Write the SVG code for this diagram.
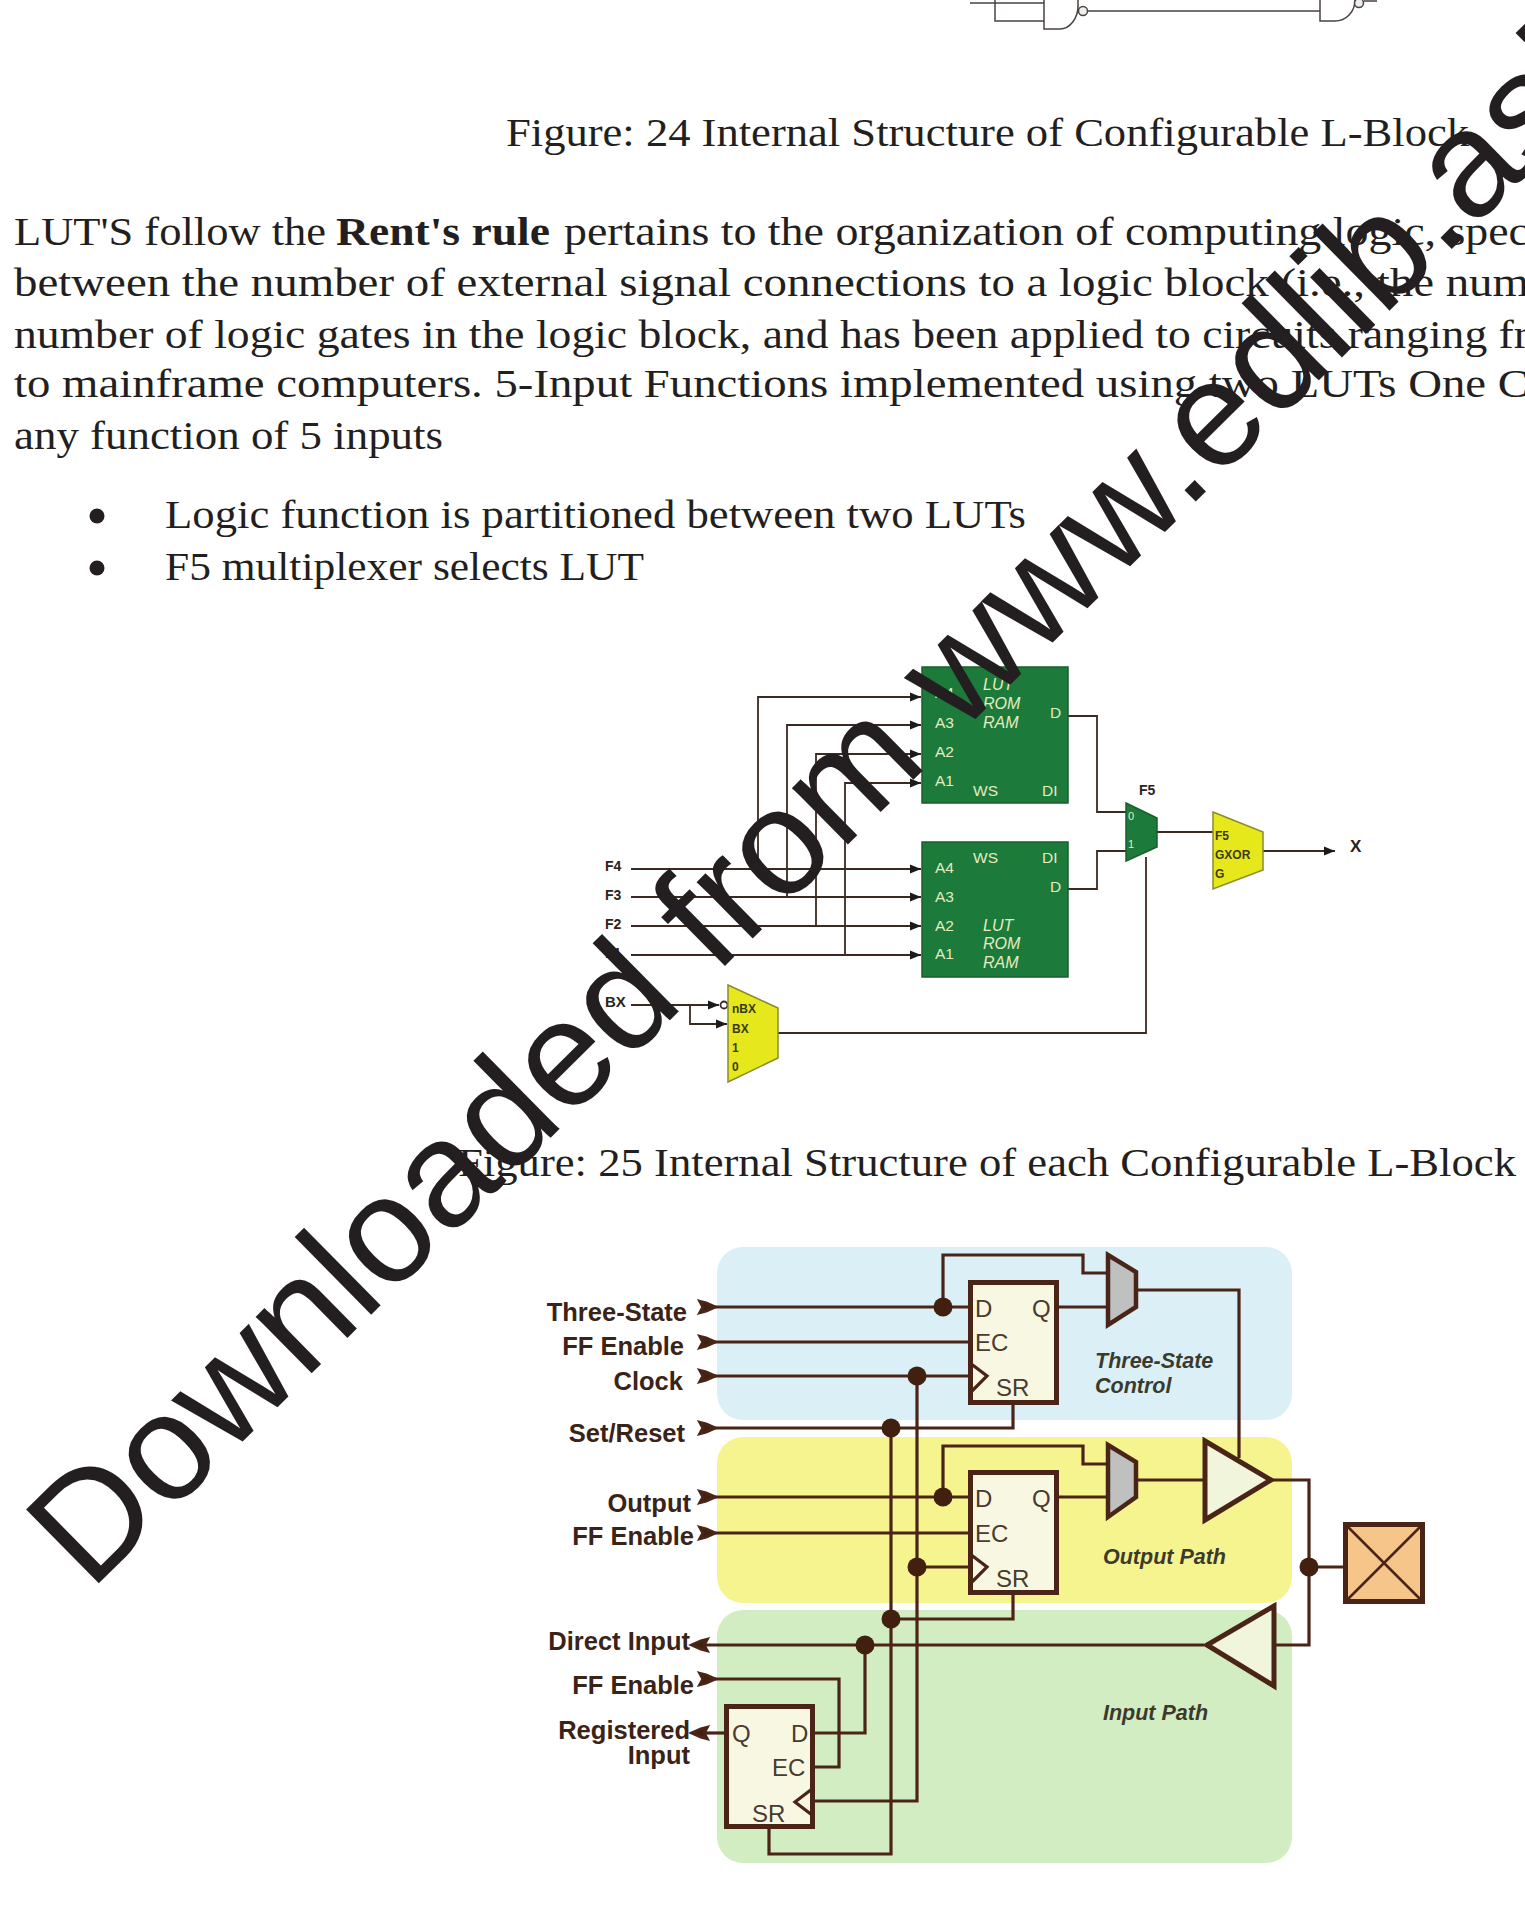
<svg xmlns="http://www.w3.org/2000/svg" width="1525" height="1908" viewBox="0 0 1525 1908">
<style>
text{font-family:"Liberation Sans",Arial,sans-serif}
.b{font-family:"Liberation Serif","Times New Roman",serif;font-size:40px;fill:#231f20}
.bb{font-weight:bold}
.w{fill:none;stroke:#3a2a22;stroke-width:1.8}
.lut{fill:#1c7a3a;stroke:#1b5e2d;stroke-width:1.5}
.ly{fill:#e4ecc0;font-size:15.5px}
.li{fill:#e4ecc0;font-size:16px;font-style:italic}
.k{fill:#2b2320;font-size:14px;font-weight:bold}
.ym{fill:#e6e81c;stroke:#8a8a30;stroke-width:1.5}
.ky{fill:#3a3a18;font-size:12px;font-weight:bold}
.c{fill:none;stroke:#4a2416;stroke-width:3.2}
.d{fill:#41200f}
.box{fill:#f8f8e2;stroke:#4a2416;stroke-width:5}
.mux{fill:#bfc0c0;stroke:#4a2416;stroke-width:4.5}
.tri{fill:#f1f5dc;stroke:#4a2416;stroke-width:5}
.s{fill:#4a3a30;font-size:24px}
.lab{fill:#3a2317;font-size:25.5px;font-weight:bold;text-anchor:end}
.ttl{fill:#3c3a2c;font-size:21.5px;font-weight:bold;font-style:italic}
.wm{fill:#231f20;font-size:150.5px}
</style>
<defs>
<marker id="a" markerUnits="userSpaceOnUse" markerWidth="12" markerHeight="10" refX="11" refY="5" orient="auto"><path d="M0 0.5L11 5L0 9.500Z" fill="#1a1a1a"/></marker>
<path id="ar" d="M0-5.500L6-4L15 0L6 4L0 5.500L3 0Z" fill="#41200f"/>
<path id="al" d="M0 0L9-4L15-5.500L12 0L15 5.500L9 4Z" fill="#41200f"/>
</defs>
<rect width="1525" height="1908" fill="#fff"/>

<g id="top-gates" fill="none" stroke="#4a4340" stroke-width="1.5">
<path d="M970 3H1044M995 0V21H1044M1087 11H1320M1364 1H1377"/>
<path d="M1044 0V29H1060C1070 29 1078 18 1078 6V0"/>
<path d="M1320 0V21H1335C1346 21 1355 12 1355 0"/>
<circle cx="1083" cy="11" r="4.500" fill="#eee"/>
<circle cx="1359" cy="3" r="4.500" fill="#eee"/>
</g>

<g id="body-text">
<text class="b" x="506" y="146" textLength="963" lengthAdjust="spacingAndGlyphs">Figure: 24 Internal Structure of  Configurable L-Block</text>
<text class="b" x="14" y="245" textLength="312" lengthAdjust="spacingAndGlyphs">LUT'S follow the</text>
<text class="b bb" x="336" y="245" textLength="214" lengthAdjust="spacingAndGlyphs">Rent's rule</text>
<text class="b" x="564" y="245" textLength="965" lengthAdjust="spacingAndGlyphs">pertains to the organization of computing logic, spec</text>
<text class="b" x="14" y="296" textLength="1515" lengthAdjust="spacingAndGlyphs">between the number of external signal connections to a logic block (i.e., the num</text>
<text class="b" x="14" y="348" textLength="1515" lengthAdjust="spacingAndGlyphs">number of logic gates in the logic block, and has been applied to circuits ranging fr</text>
<text class="b" x="14" y="397" textLength="1515" lengthAdjust="spacingAndGlyphs">to mainframe computers. 5-Input Functions implemented using two LUTs One C</text>
<text class="b" x="14" y="449" textLength="429" lengthAdjust="spacingAndGlyphs">any function of 5 inputs</text>
<circle cx="97" cy="516" r="7.500" fill="#231f20"/>
<text class="b" x="165" y="528" textLength="861" lengthAdjust="spacingAndGlyphs">Logic function is partitioned between two LUTs</text>
<circle cx="97" cy="568" r="7.500" fill="#231f20"/>
<text class="b" x="165" y="580" textLength="479" lengthAdjust="spacingAndGlyphs">F5 multiplexer selects LUT</text>
</g>

<g id="fig25-connectors" class="w">
<path class="w" marker-end="url(#a)" d="M631 869H921"/>
<path class="w" marker-end="url(#a)" d="M631 897H921"/>
<path class="w" marker-end="url(#a)" d="M631 926H921"/>
<path class="w" marker-end="url(#a)" d="M631 955H921"/>
<path class="w" marker-end="url(#a)" d="M758 869V697H921"/>
<path class="w" marker-end="url(#a)" d="M787 897V725H921"/>
<path class="w" marker-end="url(#a)" d="M816 926V754H921"/>
<path class="w" marker-end="url(#a)" d="M845 955V783H921"/>
<path class="w" d="M1068 716H1097V812H1126"/>
<path class="w" d="M1068 889H1097V851H1126"/>
<path class="w" d="M1157 832H1213"/>
<path class="w" marker-end="url(#a)" d="M1263 851H1335"/>
<path class="w" d="M778 1033H1146V857"/>
<path class="w" marker-end="url(#a)" d="M631 1005H719"/>
<path class="w" marker-end="url(#a)" d="M690 1005V1024H727"/>
<circle class="w" cx="724" cy="1005" r="3.500"/>
</g>

<g id="lut-top">
<rect class="lut" x="922" y="667" width="146" height="136"/>
<text class="ly" x="935" y="698">A4</text><text class="ly" x="935" y="728">A3</text><text class="ly" x="935" y="757">A2</text><text class="ly" x="935" y="786">A1</text>
<text class="li" x="983" y="690">LUT</text><text class="li" x="983" y="709">ROM</text><text class="li" x="983" y="728">RAM</text>
<text class="ly" x="1050" y="718">D</text><text class="ly" x="973" y="796">WS</text><text class="ly" x="1042" y="796">DI</text>
</g>
<g id="lut-bottom">
<rect class="lut" x="922" y="842" width="146" height="135"/>
<text class="ly" x="935" y="873">A4</text><text class="ly" x="935" y="902">A3</text><text class="ly" x="935" y="931">A2</text><text class="ly" x="935" y="959">A1</text>
<text class="li" x="983" y="931">LUT</text><text class="li" x="983" y="949">ROM</text><text class="li" x="983" y="968">RAM</text>
<text class="ly" x="1050" y="892">D</text><text class="ly" x="973" y="863">WS</text><text class="ly" x="1042" y="863">DI</text>
</g>
<g id="mux-f5">
<path class="lut" d="M1126 803L1157 818V847L1126 861Z"/>
<text class="ly" x="1128" y="820" style="font-size:11px">0</text>
<text class="ly" x="1128" y="848" style="font-size:11px">1</text>
<text class="k" x="1139" y="795">F5</text>
</g>
<g id="mux-gxor">
<path class="ym" d="M1213 812L1263 832V870L1213 889Z"/>
<text class="ky" x="1215" y="840">F5</text><text class="ky" x="1215" y="859">GXOR</text><text class="ky" x="1215" y="878">G</text>
</g>
<g id="output-x"><text class="k" x="1350" y="852" style="font-size:17px">X</text></g>
<g id="mux-bx">
<path class="ym" d="M728 985L778 1008V1058L728 1082Z"/>
<text class="ky" x="732" y="1013">nBX</text><text class="ky" x="732" y="1033">BX</text><text class="ky" x="732" y="1052">1</text><text class="ky" x="732" y="1071">0</text>
</g>
<g id="fig25-inputs">
<text class="k" x="605" y="871">F4</text><text class="k" x="605" y="900">F3</text><text class="k" x="605" y="929">F2</text><text class="k" x="605" y="958">F1</text><text class="k" x="605" y="1007" style="font-size:15px">BX</text>
</g>

<text class="b" id="caption-25" x="458" y="1176" textLength="1058" lengthAdjust="spacingAndGlyphs">Figure:  25 Internal Structure of each Configurable L-Block</text>

<g id="regions">
<rect x="717" y="1247" width="575" height="173" rx="26" fill="#daf0f6"/>
<rect x="717" y="1437" width="575" height="166" rx="26" fill="#f5f48f"/>
<rect x="717" y="1610" width="575" height="253" rx="26" fill="#d3edc3"/>
<text class="ttl" x="1095" y="1368">Three-State</text><text class="ttl" x="1095" y="1393">Control</text>
<text class="ttl" x="1103" y="1564">Output Path</text>
<text class="ttl" x="1103" y="1720">Input Path</text>
</g>

<g id="fig26-connectors" class="c">
<path class="c" d="M708 1307H968"/>
<path class="c" d="M708 1342H968"/>
<path class="c" d="M708 1376H968"/>
<path class="c" d="M708 1428H1013V1403"/>
<path class="c" d="M708 1497H968"/>
<path class="c" d="M708 1533H968"/>
<path class="c" d="M943 1307V1255H1083V1273H1108"/>
<path class="c" d="M943 1497V1446H1083V1464H1108"/>
<path class="c" d="M917 1376V1801H815"/>
<path class="c" d="M917 1567H968"/>
<path class="c" d="M891 1428V1854H769V1828"/>
<path class="c" d="M891 1619H1013V1593"/>
<path class="c" d="M1059 1307H1108"/>
<path class="c" d="M1059 1497H1108"/>
<path class="c" d="M1136 1290H1239V1458"/>
<path class="c" d="M1136 1480H1204"/>
<path class="c" d="M1273 1480H1309V1645H1275"/>
<path class="c" d="M1309 1567H1343"/>
<path class="c" d="M1204 1645H700"/>
<path class="c" d="M865 1645V1733H815"/>
<path class="c" d="M708 1679H839V1767H815"/>
<path class="c" d="M724 1733H700"/>
<use href="#ar" x="700" y="1307"/><use href="#ar" x="700" y="1342"/><use href="#ar" x="700" y="1376"/><use href="#ar" x="700" y="1428"/><use href="#ar" x="700" y="1497"/><use href="#ar" x="700" y="1533"/><use href="#ar" x="700" y="1679"/>
<use href="#al" x="692" y="1645"/><use href="#al" x="692" y="1733"/>
<circle class="d" stroke="none" cx="943" cy="1307" r="9.500"/>
<circle class="d" stroke="none" cx="917" cy="1376" r="9.500"/>
<circle class="d" stroke="none" cx="891" cy="1428" r="9.500"/>
<circle class="d" stroke="none" cx="943" cy="1497" r="9.500"/>
<circle class="d" stroke="none" cx="917" cy="1567" r="9.500"/>
<circle class="d" stroke="none" cx="891" cy="1619" r="9.500"/>
<circle class="d" stroke="none" cx="865" cy="1645" r="9.500"/>
<circle class="d" stroke="none" cx="1309" cy="1567" r="9.500"/>
</g>

<g id="ff-three-state">
<rect class="box" x="970.500" y="1282.500" width="86" height="120"/>
<path class="c" d="M970 1363L987 1376L970 1393"/>
<text class="s" x="975" y="1317">D</text><text class="s" x="1032" y="1317">Q</text><text class="s" x="975" y="1351">EC</text><text class="s" x="996" y="1396">SR</text>
</g>
<g id="ff-output">
<rect class="box" x="970.500" y="1472.500" width="86" height="120"/>
<path class="c" d="M970 1554L987 1567L970 1584"/>
<text class="s" x="975" y="1507">D</text><text class="s" x="1032" y="1507">Q</text><text class="s" x="975" y="1542">EC</text><text class="s" x="996" y="1587">SR</text>
</g>
<g id="ff-input">
<rect class="box" x="726.500" y="1706.500" width="86" height="120"/>
<path class="c" d="M812 1789L795 1802L812 1815"/>
<text class="s" x="732" y="1742">Q</text><text class="s" x="791" y="1742">D</text><text class="s" x="772" y="1776">EC</text><text class="s" x="752" y="1822">SR</text>
</g>
<g id="mux-three-state"><path class="mux" d="M1108 1255L1136 1272V1307L1108 1325Z"/></g>
<g id="mux-output"><path class="mux" d="M1108 1445L1136 1462V1497L1108 1517Z"/></g>
<g id="buffer-output"><path class="tri" d="M1205 1441L1271 1480L1205 1520Z"/></g>
<g id="buffer-input"><path class="tri" d="M1274 1606L1207 1645L1274 1686Z"/></g>
<g id="pad">
<rect x="1345.500" y="1524.500" width="77" height="77" fill="#f5c58a" stroke="#4a2416" stroke-width="5"/>
<path d="M1346 1525L1422 1601M1422 1525L1346 1601" stroke="#4a2416" stroke-width="2.500"/>
</g>
<g id="fig26-labels">
<text class="lab" x="687" y="1321">Three-State</text>
<text class="lab" x="684" y="1355">FF Enable</text>
<text class="lab" x="683" y="1390">Clock</text>
<text class="lab" x="685" y="1442">Set/Reset</text>
<text class="lab" x="691" y="1512">Output</text>
<text class="lab" x="694" y="1545">FF Enable</text>
<text class="lab" x="690" y="1650">Direct Input</text>
<text class="lab" x="694" y="1694">FF Enable</text>
<text class="lab" x="690" y="1739">Registered</text>
<text class="lab" x="690" y="1764">Input</text>
</g>

<text id="watermark" class="wm" transform="translate(90 1592) rotate(-44.600)">Downloaded from www.edlib.asia</text>
</svg>
